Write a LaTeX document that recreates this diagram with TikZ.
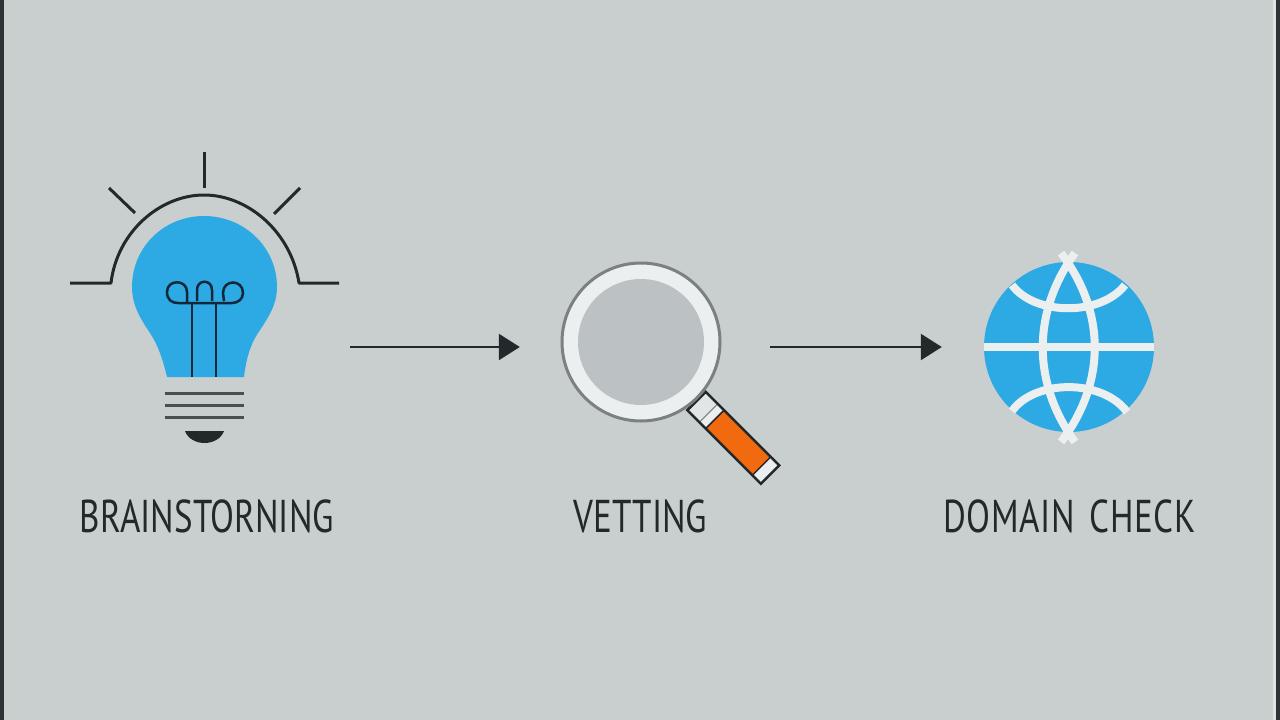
\documentclass[tikz,border=0pt]{standalone}
\usepackage{fontspec}
\setmainfont[FakeStretch=0.76,WordSpace=1.5]{PT Sans}
\usetikzlibrary{arrows.meta}

\definecolor{paper}{HTML}{C9CFCF}
\definecolor{edgeline}{HTML}{2C3236}
\definecolor{edgeglow}{HTML}{DDE2E2}
\definecolor{baseline}{HTML}{4A4F52}
\definecolor{ink}{HTML}{23282B}
\definecolor{navy}{HTML}{14263A}
\definecolor{skyblue}{HTML}{2DAAE4}
\definecolor{glass}{HTML}{BCC1C3}
\definecolor{rim}{HTML}{ECEFF0}
\definecolor{rimline}{HTML}{7B8083}
\definecolor{collar}{HTML}{E2E5E5}
\definecolor{handle}{HTML}{F26A10}

\tikzset{
  iconspot/.style={inner sep=0pt, minimum size=#1},
  caption/.style={inner sep=0pt, text=ink, font=\fontsize{46}{46}\selectfont, anchor=base},
  flow/.style={draw=ink, line width=2.5pt, -{Triangle[length=21pt,width=26pt]}},
  wire/.style={draw=ink, line width=3pt},
  fila/.style={draw=navy, line width=2.5pt},
  band/.style={draw=ink, line width=2.5pt},
  grid/.style={draw=rim, line width=8pt}
}

\begin{document}
\begin{tikzpicture}[x=1pt, y=-1pt]
\useasboundingbox (0,0) rectangle (1280,720);
\fill[paper] (0,0) rectangle (1280,720);
\fill[edgeline] (0,0) rectangle (3.5,720);
\fill[edgeglow] (1273,0) rectangle (1276,720);
\fill[edgeline] (1276,0) rectangle (1280,720);

% Nodes
\node[iconspot=292pt] (bulb) at (204,347) {};
\node[iconspot=160pt, circle] (lens) at (641,342) {};
\node[iconspot=170pt, circle] (globe) at (1069,347) {};

\node[caption] (brainstorm) at (207,532) {BRAINSTORNING};
\node[caption] (vetting) at (640.5,532) {VETTING};
\node[caption] (domain) at (1069.5,532) {\addfontfeature{LetterSpace=1.2}DOMAIN CHECK};

% Bulb
\fill[skyblue] (167,377) .. controls (163,360) and (158,345) .. (150,333)
  .. controls (140,318) and (132,305) .. (132,287)
  .. controls (132,247) and (164,216) .. (204,216)
  .. controls (244,216) and (277,247) .. (277,287)
  .. controls (277,305) and (268,318) .. (258,333)
  .. controls (250,345) and (246,360) .. (244,377) -- cycle;
\draw[wire, line join=round] (70,283) -- (111,283) .. controls (117,232) and (160,195) .. (204,195)
  .. controls (248,195) and (291,232) .. (299,283) -- (339,283);
\draw[wire] (204,152) -- (204,188);
\draw[wire] (109,188) -- (135,213);
\draw[wire] (300,188) -- (274,214);

% Filament
\draw[fila] (187,303) -- (187,292) .. controls (187,279) and (167,279) .. (167,292)
  .. controls (167,300) and (172,303) .. (178,303) -- (232,303)
  .. controls (238,303) and (243,299) .. (243,293)
  .. controls (243,279) and (223,279) .. (223,293) -- (224,301);
\draw[fila] (197,301) -- (197,290) .. controls (197,279) and (212,279) .. (212,290) -- (212,301);
\draw[fila] (192,303) -- (192,377);
\draw[fila] (216,303) -- (216,377);

% Screw base
\foreach \y in {393,405,417}
  \draw[draw=baseline, line width=3pt] (165,\y) -- (244,\y);
\fill[ink] (185,431) -- (224,431) .. controls (218,447) and (191,447) .. (185,431) -- cycle;

% Magnifier
\begin{scope}[shift={(696.5,401)}, rotate=-45]
  \fill[collar] (0,-13) rectangle (17,13);
  \fill[rim] (17,-13) rectangle (26,13);
  \fill[handle] (26,-13) rectangle (92,13);
  \fill[rim] (92,-13) rectangle (104,13);
  \draw[draw=ink, line width=1.5pt] (26,-13) -- (26,13);
  \draw[draw=ink, line width=1.5pt] (92,-13) -- (92,13);
  \draw[draw=rimline, line width=1pt] (17,-13) -- (17,13);
  \draw[band] (0,-13) rectangle (104,13);
\end{scope}
\filldraw[draw=rimline, fill=rim, line width=3pt] (lens.center) circle (79);
\fill[glass] (lens.center) circle (63);

% Globe
\fill[skyblue] (globe.center) circle (85);
\draw[grid] (globe.west) -- (globe.east);
\draw[grid] (1075,253) .. controls (1032,312) and (1032,383) .. (1075,442);
\draw[grid] (1061,253) .. controls (1106,312) and (1106,383) .. (1061,442);
\draw[grid] (1012,285) .. controls (1035,316) and (1101,316) .. (1125,285);
\draw[grid] (1012,411) .. controls (1035,379) and (1103,379) .. (1127,412);

% Arrows
\draw[flow, shorten >=41pt] (bulb.east) -- (lens.west |- bulb.east);
\draw[flow, shorten <=49pt, shorten >=42pt] (lens.east |- globe.west) -- (globe.west);
\end{tikzpicture}
\end{document}
